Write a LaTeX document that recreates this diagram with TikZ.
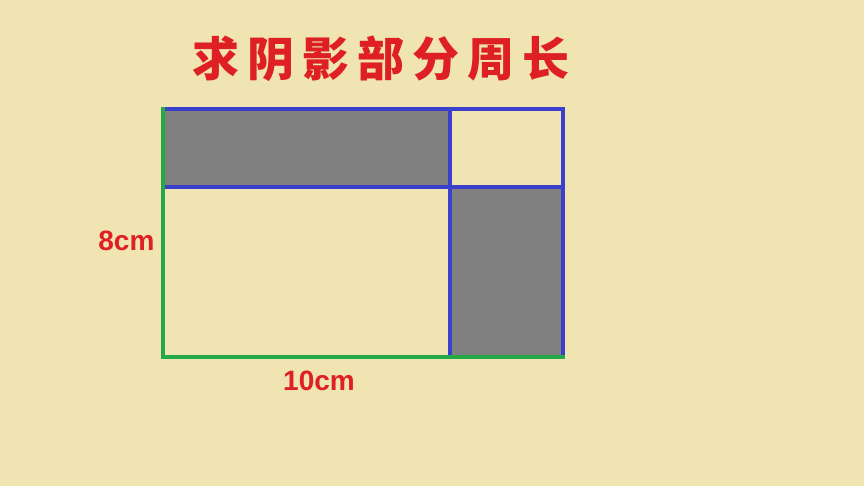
\documentclass[tikz,border=0pt]{standalone}
\usepackage{fontspec}
\setmainfont{Liberation Sans}
\newfontfamily\cjk{Noto Sans CJK SC}
\usepackage{xcolor}

\definecolor{paper}{RGB}{240,228,178}
\definecolor{shadegray}{RGB}{128,128,128}
\definecolor{edgeblue}{RGB}{58,64,204}
\definecolor{edgegreen}{RGB}{36,168,72}
\definecolor{labelred}{RGB}{222,32,36}

\tikzset{
  blueedge/.style={draw=edgeblue, line width=4pt},
  greenedge/.style={draw=edgegreen, line width=4pt, line cap=rect},
  lengthlabel/.style={text=labelred, font=\fontsize{28}{28}\selectfont\bfseries}
}

\begin{document}
\begin{tikzpicture}[x=1pt,y=-1pt]
    % Background
    \fill[paper] (0,0) rectangle (864,486);

    % Title
    \node[text=labelred, font=\cjk\bfseries\fontsize{47}{47}\selectfont] (title) at (381,59) {求\hspace{8pt}阴\hspace{8pt}影\hspace{8pt}部\hspace{8pt}分\hspace{8pt}周\hspace{8pt}长};

    % Shaded parts
    \fill[shadegray] (163,109) rectangle (450,187);
    \fill[shadegray] (450,187) rectangle (563,357);

    % Corner points
    \coordinate (tl) at (163,109);
    \coordinate (tr) at (563,109);
    \coordinate (bl) at (163,357);
    \coordinate (br) at (563,357);
    \coordinate (ml) at (163,187);
    \coordinate (mr) at (563,187);
    \coordinate (mt) at (450,109);
    \coordinate (mb) at (450,357);

    % Blue lines
    \draw[blueedge] (tl) -- (tr) -- (br);
    \draw[blueedge] (ml) -- (mr);
    \draw[blueedge] (mt) -- (mb);

    % Green lines
    \draw[greenedge] (tl) -- (bl) -- (br);

    % Lengths
    \node[lengthlabel, left=5pt] (height) at (163,241) {8cm};
    \node[lengthlabel] (width) at (319,381) {10cm};
\end{tikzpicture}
\end{document}
